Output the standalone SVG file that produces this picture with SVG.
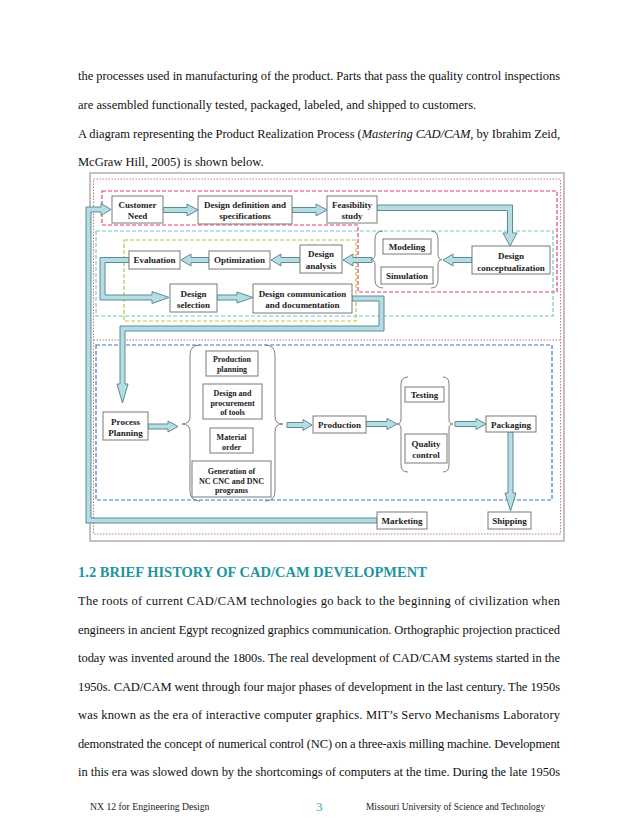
<svg xmlns="http://www.w3.org/2000/svg" width="638" height="826" viewBox="0 0 638 826">
<defs>
<style>
.p{font-family:"Liberation Serif","Times New Roman",serif;font-size:12.5px;fill:#111}
.h{font-family:"Liberation Serif","Times New Roman",serif;font-size:14.5px;font-weight:bold;fill:#21959f}
.f{font-family:"Liberation Serif","Times New Roman",serif;font-size:9.7px;fill:#222}
.box{fill:#fff;stroke:#7a7a7a;stroke-width:1}
.t{font-family:"Liberation Serif","Times New Roman",serif;font-size:9px;font-weight:bold;fill:#222;text-anchor:middle}
.s{font-family:"Liberation Serif","Times New Roman",serif;font-size:8px;font-weight:bold;fill:#222;text-anchor:middle}
.arr{fill:#b6dde4;stroke:#5b8c96;stroke-width:1}
.br{fill:none;stroke:#808080;stroke-width:1}
.dash{fill:none;stroke-width:1.2;stroke-dasharray:4 2}
</style>
</defs>
<rect width="638" height="826" fill="#fff"/>

<g id="page-text-top">
<text class="p" x="78" y="80" textLength="482" lengthAdjust="spacing">the processes used in manufacturing of the product. Parts that pass the quality control inspections</text>
<text class="p" x="78" y="109">are assembled functionally tested, packaged, labeled, and shipped to customers.</text>
<text class="p" x="78" y="138" textLength="482" lengthAdjust="spacing">A diagram representing the Product Realization Process (<tspan font-style="italic">Mastering CAD/CAM</tspan>, by Ibrahim Zeid,</text>
<text class="p" x="78" y="166">McGraw Hill, 2005) is shown below.</text>
</g>

<g id="frames">
<rect x="90" y="173" width="474" height="368" fill="none" stroke="#9a9a9a" stroke-width="1.2"/>
<rect x="93.5" y="179" width="467" height="355" fill="none" stroke="#c47a7a" stroke-width="1" stroke-dasharray="1.5 1.5"/>
<line x1="93.5" y1="340" x2="560.5" y2="340" stroke="#c47a7a" stroke-width="1" stroke-dasharray="1.5 1.5"/>
<path class="dash" stroke="#e0407a" d="M102,191 H557 V292 H358 V225 H102 Z"/>
<rect class="dash" stroke="#78c6cc" x="96" y="231" width="457" height="85"/>
<rect class="dash" stroke="#b8c83c" x="124" y="240" width="232" height="81"/>
<rect class="dash" stroke="#3a78c8" stroke-width="1.4" x="96" y="345" width="456" height="155"/>
</g>

<g id="connectors">
<path class="arr" d="M377,518 H91 V212 H101 V215.5 L111,209.5 L101,203.5 V207 H86 V523 H377 Z"/>
<path class="arr" d="M163,207.5 H187 V204 L198,210 L187,216 V212.5 H163 Z"/>
<path class="arr" d="M292,207.5 H316 V204 L327,210 L316,216 V212.5 H292 Z"/>
<path class="arr" d="M377,205 H512.5 V233 H517 L510,246 L503,233 H507.5 V210.5 H377 Z"/>
<path class="arr" d="M472,257.5 H453 V254 L443,260 L453,266 V262.5 H472 Z"/>
<path class="arr" d="M372,257.5 H353 V254 L343,260 L353,266 V262.5 H372 Z"/>
<path class="arr" d="M300,257.5 H281 V254 L271,260 L281,266 V262.5 H300 Z"/>
<path class="arr" d="M209,257.5 H191 V254 L181,260 L191,266 V262.5 H209 Z"/>
<path class="arr" d="M129,257.5 H100 V300 H152 V303.5 L169,297.5 L152,291.5 V295 H105 V262.5 H129 Z"/>
<path class="arr" d="M217,295 H237 V292 L253,297.5 L237,303 V300 H217 Z"/>
<path class="arr" d="M352,296 H384 V331 H125 V384 H128 L122.5,403 L117,384 H120 V326 H379 V301 H352 Z"/>
<path class="arr" d="M148,424 H168 V421 L178,426.5 L168,432 V429 H148 Z"/>
<path class="arr" d="M287,422.5 H303 V419.5 L312,425 L303,430.5 V427.5 H287 Z"/>
<path class="arr" d="M366,421.5 H387 V418.5 L397,424 L387,429.5 V426.5 H366 Z"/>
<path class="arr" d="M455,421.5 H476 V418.5 L486,424 L476,429.5 V426.5 H455 Z"/>
<path class="arr" d="M508,432 V493 H505 L510.5,511 L516,493 H513 V432 Z"/>
</g>

<g id="braces">
<path class="br" d="M383,231 Q375,231 375,239 V254 Q375,259.5 371,259.5 Q375,259.5 375,265 V280 Q375,288 383,288"/>
<path class="br" d="M431,231 Q438,231 438,239 V254 Q438,259.5 442,259.5 Q438,259.5 438,265 V280 Q438,288 431,288"/>
<path class="br" d="M200,345 Q190,345 190,355 V417 Q190,424 182,424 Q190,424 190,431 V491 Q190,501 200,501"/>
<path class="br" d="M265,345 Q275,345 275,355 V417 Q275,424 283,424 Q275,424 275,431 V491 Q275,501 265,501"/>
<path class="br" d="M408,377 Q401,377 401,384 V419 Q401,424 397,424 Q401,424 401,429 V465 Q401,472 408,472"/>
<path class="br" d="M443,377 Q449,377 449,384 V419 Q449,424 453,424 Q449,424 449,429 V465 Q449,472 443,472"/>
</g>

<g id="customer-need"><rect class="box" x="112" y="196" width="51" height="27"/><text class="t" x="137.5" y="208">Customer</text><text class="t" x="137.5" y="219">Need</text></g>
<g id="design-definition"><rect class="box" x="198" y="196" width="94" height="28"/><text class="t" x="245" y="208">Design definition and</text><text class="t" x="245" y="219">specifications</text></g>
<g id="feasibility"><rect class="box" x="327" y="196" width="50" height="27"/><text class="t" x="352" y="207.5">Feasibility</text><text class="t" x="352" y="219">study</text></g>
<g id="design-conceptualization"><rect class="box" x="472" y="246" width="78" height="28"/><text class="t" x="511" y="259">Design</text><text class="t" x="511" y="271">conceptualization</text></g>
<g id="modeling"><rect class="box" x="383" y="239" width="48" height="15"/><text class="t" x="407" y="250">Modeling</text></g>
<g id="simulation"><rect class="box" x="381" y="267" width="52" height="17"/><text class="t" x="407" y="279">Simulation</text></g>
<g id="design-analysis"><rect class="box" x="300" y="245" width="42" height="28"/><text class="t" x="321" y="257">Design</text><text class="t" x="321" y="269">analysis</text></g>
<g id="optimization"><rect class="box" x="209" y="251" width="61" height="18"/><text class="t" x="239.5" y="263">Optimization</text></g>
<g id="evaluation"><rect class="box" x="129" y="251" width="51" height="18"/><text class="t" x="154.5" y="263">Evaluation</text></g>
<g id="design-selection"><rect class="box" x="170" y="284" width="47" height="28"/><text class="t" x="193.5" y="297">Design</text><text class="t" x="193.5" y="308">selection</text></g>
<g id="design-communication"><rect class="box" x="253" y="284" width="99" height="29"/><text class="t" x="302.5" y="297">Design communication</text><text class="t" x="302.5" y="308">and documentation</text></g>
<g id="process-planning"><rect class="box" x="103" y="412" width="45" height="28"/><text class="t" x="125.5" y="424.5">Process</text><text class="t" x="125.5" y="435.5">Planning</text></g>
<g id="production-planning"><rect class="box" x="206" y="351" width="52" height="25"/><text class="s" x="232" y="362">Production</text><text class="s" x="232" y="372">planning</text></g>
<g id="design-procurement"><rect class="box" x="203" y="384" width="59" height="35"/><text class="s" x="232.5" y="396">Design and</text><text class="s" x="232.5" y="406">procurement</text><text class="s" x="232.5" y="415">of tools</text></g>
<g id="material-order"><rect class="box" x="210" y="428" width="43" height="25"/><text class="s" x="231.5" y="440">Material</text><text class="s" x="231.5" y="450">order</text></g>
<g id="generation"><rect class="box" x="192" y="461" width="79" height="36"/><text class="s" x="231.5" y="474">Generation of</text><text class="s" x="231.5" y="483.5">NC CNC and DNC</text><text class="s" x="231.5" y="493">programs</text></g>
<g id="production"><rect class="box" x="313" y="416" width="53" height="17"/><text class="t" x="339.5" y="428">Production</text></g>
<g id="testing"><rect class="box" x="405" y="387" width="39" height="15"/><text class="t" x="424.5" y="398">Testing</text></g>
<g id="quality-control"><rect class="box" x="405" y="434" width="42" height="29"/><text class="t" x="426" y="447">Quality</text><text class="t" x="426" y="458">control</text></g>
<g id="packaging"><rect class="box" x="486" y="416" width="50" height="16"/><text class="t" x="511" y="427.5">Packaging</text></g>
<g id="marketing"><rect class="box" x="377" y="512" width="50" height="17"/><text class="t" x="402" y="524">Marketing</text></g>
<g id="shipping"><rect class="box" x="488" y="512" width="43" height="17"/><text class="t" x="509.5" y="524">Shipping</text></g>

<g id="page-text-bottom">
<text class="h" x="78" y="577">1.2 BRIEF HISTORY OF CAD/CAM DEVELOPMENT</text>
<text class="p" x="78" y="605" textLength="482" lengthAdjust="spacing">The roots of current CAD/CAM technologies go back to the beginning of civilization when</text>
<text class="p" x="78" y="633.5" textLength="482" lengthAdjust="spacing">engineers in ancient Egypt recognized graphics communication. Orthographic projection practiced</text>
<text class="p" x="78" y="662" textLength="482" lengthAdjust="spacing">today was invented around the 1800s. The real development of CAD/CAM systems started in the</text>
<text class="p" x="78" y="690.5" textLength="482" lengthAdjust="spacing">1950s. CAD/CAM went through four major phases of development in the last century. The 1950s</text>
<text class="p" x="78" y="719" textLength="482" lengthAdjust="spacing">was known as the era of interactive computer graphics. MIT’s Servo Mechanisms Laboratory</text>
<text class="p" x="78" y="747.5" textLength="482" lengthAdjust="spacing">demonstrated the concept of numerical control (NC) on a three-axis milling machine. Development</text>
<text class="p" x="78" y="776" textLength="482" lengthAdjust="spacing">in this era was slowed down by the shortcomings of computers at the time. During the late 1950s</text>
<text class="f" x="90" y="810">NX 12 for Engineering Design</text>
<text x="316" y="811" font-family="Liberation Serif, serif" font-size="13" fill="#3aa3b0">3</text>
<text class="f" x="366" y="810" style="font-size:9.4px">Missouri University of Science and Technology</text>
</g>
</svg>
